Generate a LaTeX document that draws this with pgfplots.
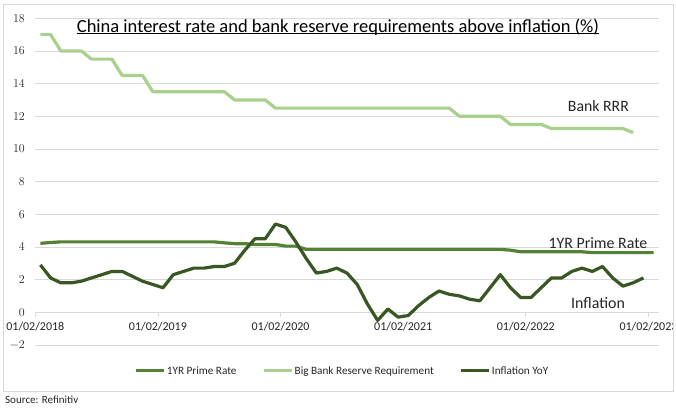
\documentclass[border=0pt]{standalone}
\usepackage{pgfplots}
\pgfplotsset{compat=1.18}
\usepackage{pgfplotstable}
\usepackage{fontspec}
\setmainfont{Carlito}
\definecolor{prime}{HTML}{548235}
\definecolor{rrr}{HTML}{A9D18E}
\definecolor{infl}{HTML}{385723}
\definecolor{gridc}{HTML}{D9D9D9}
\definecolor{txt}{HTML}{262626}

% x = months since 01/02/2018 (monthly observations)
\pgfplotstableread{
m v
0.5 4.22
1.5 4.27
2.5 4.31
3.5 4.31
4.5 4.31
5.5 4.31
6.5 4.31
7.5 4.31
8.5 4.31
9.5 4.31
10.5 4.31
11.5 4.31
12.5 4.31
13.5 4.31
14.5 4.31
15.5 4.31
16.5 4.31
17.5 4.31
18.5 4.25
19.5 4.20
20.5 4.20
21.5 4.15
22.5 4.15
23.5 4.15
24.5 4.05
25.5 4.05
26.5 3.85
27.5 3.85
28.5 3.85
29.5 3.85
30.5 3.85
31.5 3.85
32.5 3.85
33.5 3.85
34.5 3.85
35.5 3.85
36.5 3.85
37.5 3.85
38.5 3.85
39.5 3.85
40.5 3.85
41.5 3.85
42.5 3.85
43.5 3.85
44.5 3.85
45.5 3.85
46.5 3.80
47.5 3.70
48.5 3.70
49.5 3.70
50.5 3.70
51.5 3.70
52.5 3.70
53.5 3.70
54.5 3.65
55.5 3.65
56.5 3.65
57.5 3.65
58.5 3.65
59.5 3.65
60.5 3.65
}\primetable

\pgfplotstableread{
m v
0.5 17
1.5 17
2.5 16
3.5 16
4.5 16
5.5 15.5
6.5 15.5
7.5 15.5
8.5 14.5
9.5 14.5
10.5 14.5
11.5 13.5
12.5 13.5
13.5 13.5
14.5 13.5
15.5 13.5
16.5 13.5
17.5 13.5
18.5 13.5
19.5 13
20.5 13
21.5 13
22.5 13
23.5 12.5
24.5 12.5
25.5 12.5
26.5 12.5
27.5 12.5
28.5 12.5
29.5 12.5
30.5 12.5
31.5 12.5
32.5 12.5
33.5 12.5
34.5 12.5
35.5 12.5
36.5 12.5
37.5 12.5
38.5 12.5
39.5 12.5
40.5 12.5
41.5 12
42.5 12
43.5 12
44.5 12
45.5 12
46.5 11.5
47.5 11.5
48.5 11.5
49.5 11.5
50.5 11.25
51.5 11.25
52.5 11.25
53.5 11.25
54.5 11.25
55.5 11.25
56.5 11.25
57.5 11.25
58.5 11
}\rrrtable

\pgfplotstableread{
m v
0.5 2.9
1.5 2.1
2.5 1.8
3.5 1.8
4.5 1.9
5.5 2.1
6.5 2.3
7.5 2.5
8.5 2.5
9.5 2.2
10.5 1.9
11.5 1.7
12.5 1.5
13.5 2.3
14.5 2.5
15.5 2.7
16.5 2.7
17.5 2.8
18.5 2.8
19.5 3.0
20.5 3.8
21.5 4.5
22.5 4.5
23.5 5.4
24.5 5.2
25.5 4.3
26.5 3.3
27.5 2.4
28.5 2.5
29.5 2.7
30.5 2.4
31.5 1.7
32.5 0.5
33.5 -0.5
34.5 0.2
35.5 -0.3
36.5 -0.2
37.5 0.4
38.5 0.9
39.5 1.3
40.5 1.1
41.5 1.0
42.5 0.8
43.5 0.7
44.5 1.5
45.5 2.3
46.5 1.5
47.5 0.9
48.5 0.9
49.5 1.5
50.5 2.1
51.5 2.1
52.5 2.5
53.5 2.7
54.5 2.5
55.5 2.8
56.5 2.1
57.5 1.6
58.5 1.8
59.5 2.1
}\infltable

\begin{document}
\begin{tikzpicture}[x=1pt,y=1pt]
\useasboundingbox (0,0) rectangle (676,409);
\fill[white] (0,0) rectangle (676,409);
\begin{scope}
\clip (3,18) rectangle (673,405);
\begin{axis}[
  at={(35.3pt,64.1pt)}, anchor=south west,
  scale only axis, width=623.4pt, height=326.6pt,
  xmin=0, xmax=61, ymin=-2, ymax=18,
  axis x line*=middle, axis y line*=left,
  hide obscured x ticks=false,
  y axis line style={draw=none},
  x axis line style={-, draw=gridc, line width=0.75pt},
  ytick={-2,0,2,4,6,8,10,12,14,16,18},
  xtick={0,12,24,36,48,60},
  xticklabels={01/02/2018,01/02/2019,01/02/2020,01/02/2021,01/02/2022,01/02/2023},
  ymajorgrids, grid style={gridc, line width=0.75pt},
  ytick style={draw=none},
  xtick style={draw=gridc, line width=0.75pt},
  tick align=outside, major tick length=5pt,
  tick label style={font=\fontsize{12}{14}\selectfont, text=txt},
  yticklabel style={anchor=east, xshift=-2pt},
  xticklabel style={anchor=north, yshift=-1pt},
  legend columns=3,
  legend style={at={(0.492,-0.0796)}, anchor=center, draw=none, fill=none,
    font=\fontsize{11.2}{13}\selectfont, text=txt,
    /tikz/every even column/.append style={column sep=24pt},
    nodes={inner sep=1.5pt}},
  legend image code/.code={\draw[#1, line width=3.2pt] (0pt,0pt) -- (28pt,0pt);},
  line join=round,
]
\addplot[prime, line width=3.2pt, no markers] table[x=m,y=v]{\primetable};
\addlegendentry{1YR Prime Rate}
\addplot[rrr, line width=3.2pt, no markers] table[x=m,y=v]{\rrrtable};
\addlegendentry{Big Bank Reserve Requirement}
\addplot[infl, line width=3.2pt, no markers] table[x=m,y=v]{\infltable};
\addlegendentry{Inflation YoY}
\end{axis}
\end{scope}
\draw[gridc, line width=0.75pt] (3,18) rectangle (673,405);
\node[anchor=base, inner sep=0pt, font=\fontsize{18.5}{22}\selectfont, text=black] (T) at (338,376.7)
  {China interest rate and bank reserve requirements above inflation (\%)};
\draw[black, line width=0.9pt] ([yshift=-1.6pt]T.base west) -- ([yshift=-1.6pt]T.base east);
\node[anchor=base west, inner sep=0pt, font=\fontsize{15.8}{18}\selectfont, text=txt] at (567.7,297.3) {Bank RRR};
\node[anchor=base west, inner sep=0pt, font=\fontsize{15.9}{18}\selectfont, text=txt] at (548.3,160.7) {1YR Prime Rate};
\node[anchor=base west, inner sep=0pt, font=\fontsize{15.9}{18}\selectfont, text=txt] at (571,100.7) {Inflation};
\node[anchor=west, inner sep=0pt, font=\fontsize{11}{13}\selectfont, text=txt] at (5,9) {Source: Refinitiv};
\end{tikzpicture}
\end{document}
